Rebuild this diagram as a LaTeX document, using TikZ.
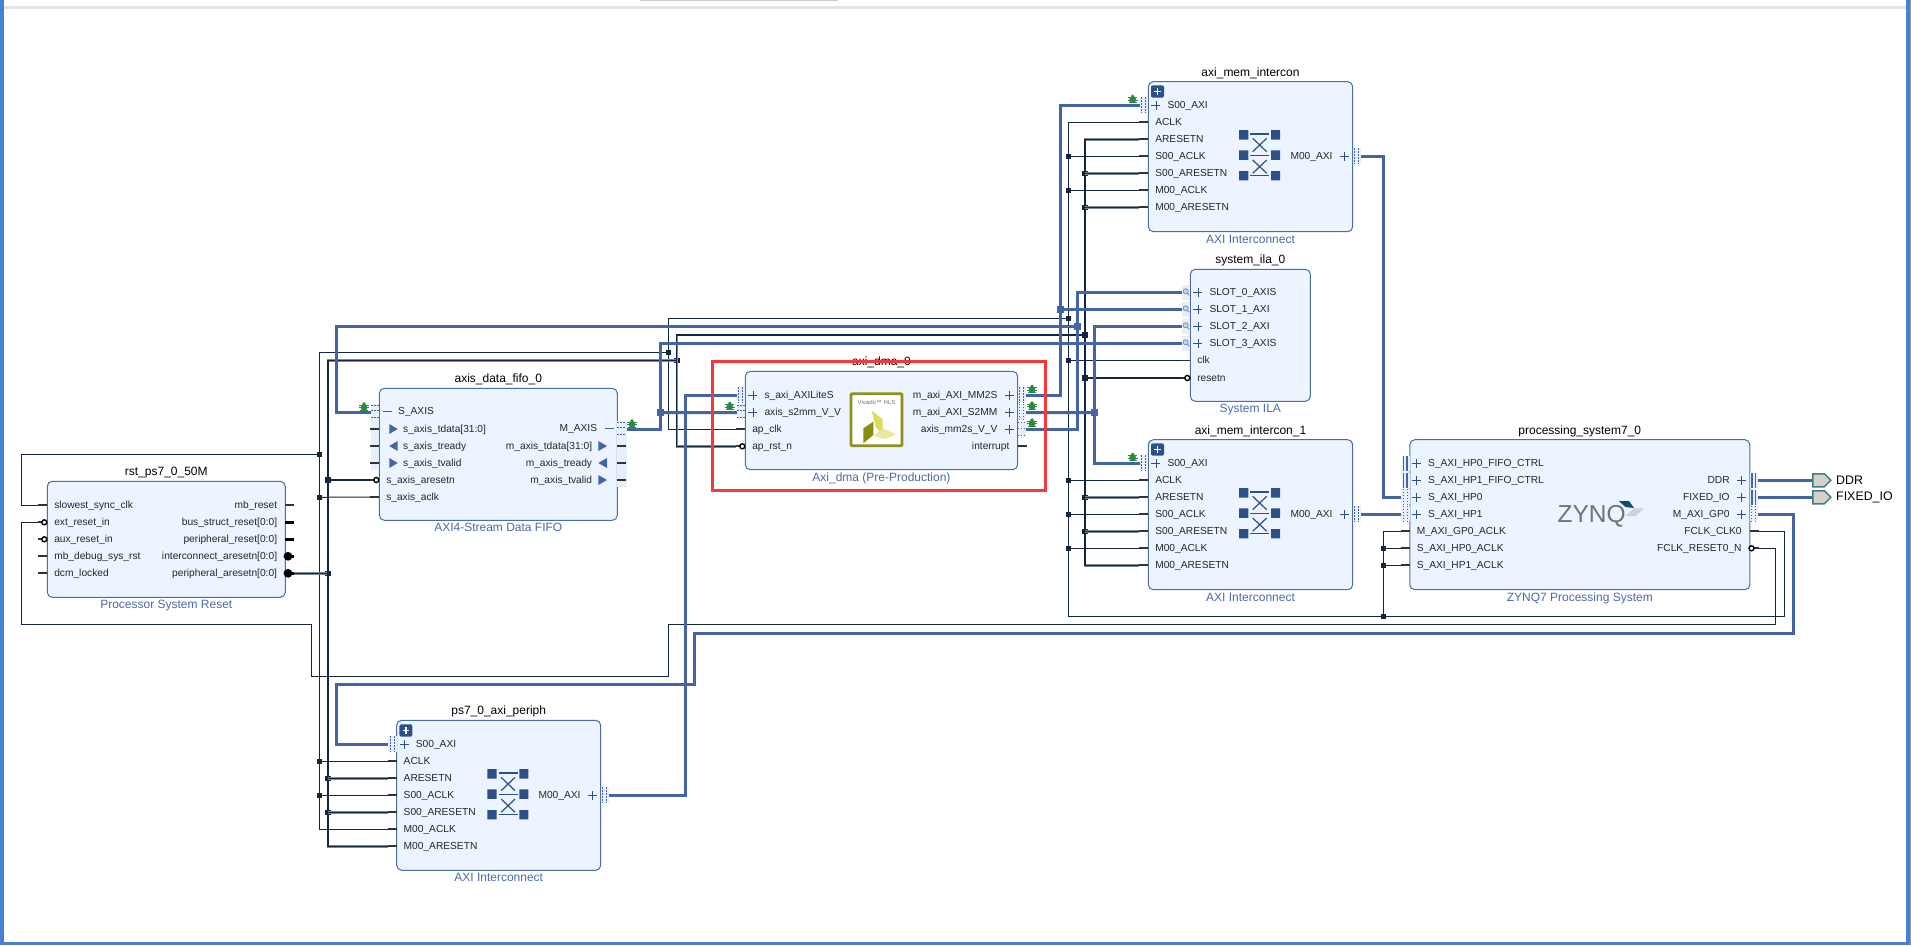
\documentclass[tikz,border=0pt]{standalone}
\usepackage{fontspec}
\setmainfont{Liberation Sans}
\usepackage{xcolor}
\usetikzlibrary{shapes.symbols}

\definecolor{frameblue}{HTML}{4A7FD6}
\definecolor{netblue}{HTML}{4464A4}
\definecolor{netdark}{HTML}{12263F}
\definecolor{netgrey}{HTML}{7C8894}
\definecolor{blockfill}{HTML}{ECF4FF}
\definecolor{blockline}{HTML}{4A6DA8}
\definecolor{subblue}{HTML}{4A6AAE}
\definecolor{iconblue}{HTML}{2E5089}
\definecolor{bandblue}{HTML}{E6EFFB}
\definecolor{buggreen}{HTML}{2A8A3E}
\definecolor{redmark}{HTML}{F83838}
\definecolor{logoolive}{HTML}{8F8F1E}
\definecolor{leaflight}{HTML}{DCDC5A}
\definecolor{leafdark}{HTML}{8C8C12}
\definecolor{leafpale}{HTML}{E8E8A0}
\definecolor{extfill}{HTML}{D8D0C8}
\definecolor{extline}{HTML}{3F7A8E}
\definecolor{zynqteal}{HTML}{0F4C6E}

\tikzset{
block/.style={
rectangle,
rounded corners=5pt,
draw=blockline,
fill=blockfill,
line width=1pt,
outer sep=0pt,
inner sep=0pt
},
blocktitle/.style={
anchor=base,
inner sep=0pt,
yshift=5.7pt,
font=\fontsize{12}{14}\selectfont
},
blocksub/.style={
anchor=base,
inner sep=0pt,
yshift=-11.6pt,
text=subblue,
font=\fontsize{12}{14}\selectfont
},
pinlabel/.style={
inner sep=0pt,
text height=8.4pt,
text depth=2.2pt,
text=black!85,
font=\fontsize{10.2}{12}\selectfont
},
stub/.style={draw=black!80,line width=1.8pt},
busstub/.style={draw=black,line width=3pt},
clknet/.style={draw=netdark,line width=1pt},
rstnet/.style={draw=netgrey,double=netdark,line width=.6pt,double distance=1.2pt},
axinet/.style={draw=netblue,line width=3pt},
jthin/.style={rectangle,fill=netdark,minimum size=4.6pt,inner sep=0pt},
jthick/.style={rectangle,fill=netdark,minimum size=5.6pt,inner sep=0pt},
jblue/.style={rectangle,fill=netblue,minimum size=7pt,inner sep=0pt},
extport/.style={
shape=signal,
signal to=east,
signal from=nowhere,
draw=extline,
fill=extfill,
line width=1.4pt,
minimum width=18pt,
minimum height=13pt,
inner sep=0pt
},
extlabel/.style={anchor=west,inner sep=0pt,font=\fontsize{12.4}{14}\selectfont}
}

% small marks beside the ports
\newcommand{\plusmark}[2]{\draw[iconblue,line width=.8pt] (#1-4.5,#2) -- (#1+4.5,#2) (#1,#2-4.5) -- (#1,#2+4.5);}
\newcommand{\bubble}[2]{\draw[black,fill=white,line width=1.4pt] (#1,#2) circle (2.5pt);}
\newcommand{\blob}[2]{\fill[black] (#1,#2) circle (4.4pt);}
\newcommand{\bugmark}[2]{
\fill[buggreen] (#1,#2+.5) circle (3.4pt) (#1,#2-3) circle (1.8pt);
\draw[buggreen,line width=.6pt] (#1-4.6,#2-1.6) -- (#1+4.6,#2-1.6) (#1-4.8,#2+.6) -- (#1+4.8,#2+.6) (#1-4.2,#2+3.4) -- (#1+4.2,#2+3.4);
}
\newcommand{\dotsV}[2]{
\fill[bandblue] (#1,#2-8.5) rectangle (#1+8.4,#2+7);
\draw[netblue,line width=1.1pt,dash pattern=on 1.6pt off 1.4pt] (#1+1.8,#2-8.5) -- (#1+1.8,#2+7) (#1+6,#2-8.5) -- (#1+6,#2+7);
}
\newcommand{\dotsH}[2]{
\fill[bandblue] (#1,#2-8.5) rectangle (#1+8.4,#2+7);
\draw[netblue,line width=1.1pt,dash pattern=on 1.6pt off 1.4pt] (#1,#2-7) -- (#1+8.4,#2-7) (#1,#2-1.5) -- (#1+8.4,#2-1.5) (#1,#2+5.5) -- (#1+8.4,#2+5.5);
}
\newcommand{\barsV}[2]{
\fill[bandblue] (#1,#2-7.5) rectangle (#1+8,#2+7.5);
\draw[netblue,line width=1.6pt] (#1+2,#2-7.5) -- (#1+2,#2+7.5) (#1+5.6,#2-7.5) -- (#1+5.6,#2+7.5);
}

% ports: name, edge x, y, text
\newcommand{\pinL}[4]{
\coordinate (#1) at (#2-9,#3);
\draw[stub] (#1) -- (#2,#3);
\node[pinlabel,anchor=west] (#1l) at (#2+6.8,#3) {#4};
}
\newcommand{\pinLneg}[4]{
\pinL{#1}{#2}{#3}{#4}
\bubble{#2-3}{#3}
}
\newcommand{\pinR}[5][stub]{
\coordinate (#2) at (#3+9,#4);
\draw[#1] (#3,#4) -- (#2);
\node[pinlabel,anchor=east] (#2l) at (#3-8,#4) {#5};
}
\newcommand{\busL}[4]{
\coordinate (#1) at (#2-8.4,#3);
\plusmark{#2+7.6}{#3}
\node[pinlabel,anchor=west] (#1l) at (#2+19,#3) {#4};
}
\newcommand{\busR}[4]{
\coordinate (#1) at (#2+8.4,#3);
\plusmark{#2-8.4}{#3}
\node[pinlabel,anchor=east] (#1l) at (#2-20,#3) {#4};
}
\newcommand{\strmL}[5]{
\coordinate (#1) at (#2-9,#3);
\draw[stub] (#1) -- (#2,#3);
\fill[netblue] #5;
\node[pinlabel,anchor=west] (#1l) at (#2+23.7,#3) {#4};
}
\newcommand{\strmR}[5]{
\coordinate (#1) at (#2+9,#3);
\draw[stub] (#2,#3) -- (#1);
\fill[netblue] #5;
\node[pinlabel,anchor=east] (#1l) at (#2-25,#3) {#4};
}
\newcommand{\probeL}[4]{
\fill[bandblue] (#2-8,#3-7.5) rectangle (#2,#3+7.5);
\busL{#1}{#2}{#3}{#4}
\draw[netblue!80,line width=.8pt] (#2-3,#3+1) -- (#2-1,#3+3);
\draw[netblue!80,fill=netblue!30,line width=.6pt] (#2-4.6,#3-1) circle (2.6pt);
}

% one AXI Interconnect: prefix, left x, right x, y of the S00_AXI row
\newcommand{\ifcports}[4]{
\dotsV{#2-8.4}{#4+.5}
\dotsV{#3}{#4+51.5}
\busL{#1s}{#2}{#4}{}
\node[pinlabel,anchor=west] (#1sl) at (#2+19,#4) {S00\_AXI};
\pinL{#1aclk}{#2}{#4+17}{ACLK}
\pinL{#1arst}{#2}{#4+34}{ARESETN}
\pinL{#1sclk}{#2}{#4+51}{S00\_ACLK}
\pinL{#1srst}{#2}{#4+68}{S00\_ARESETN}
\pinL{#1mclk}{#2}{#4+85}{M00\_ACLK}
\pinL{#1mrst}{#2}{#4+102}{M00\_ARESETN}
\busR{#1m}{#3}{#4+51}{M00\_AXI}
\begin{scope}[shift={(#2,#4-23.6)}]
\fill[iconblue,rounded corners=2pt] (2.7,3.6) rectangle (15.7,16);
\draw[white,line width=1.9pt] (9.2,6.4) -- (9.2,13.2) (5.8,9.8) -- (12.6,9.8);
\fill[iconblue] (90.7,48.3) rectangle (100,57.8) (122.7,48.3) rectangle (131.7,57.8);
\fill[iconblue] (90.7,68.6) rectangle (100,78.2) (122.7,68.6) rectangle (131.7,78.2);
\fill[iconblue] (90.7,89.3) rectangle (100,98.6) (122.7,89.3) rectangle (131.7,98.6);
\draw[iconblue,line width=1.2pt] (102,52.3) -- (121,52.3) (102,73.6) -- (121,73.6) (102,94) -- (121,94);
\draw[iconblue,line width=1.2pt] (104.4,56.6) -- (118.4,70) (118.4,56.6) -- (104.4,70);
\draw[iconblue,line width=1.2pt] (104.4,78.3) -- (118.4,91.6) (118.4,78.3) -- (104.4,91.6);
\end{scope}
}

\begin{document}
\begin{tikzpicture}[x=1pt,y=-1pt]

\useasboundingbox (0,0) rectangle (1911,945);
\fill[white] (0,0) rectangle (1911,945);

% window edge
\fill[black!10] (4,6) rectangle (1906,9);
\fill[black!20] (640,0) rectangle (838,1.2);
\fill[frameblue] (0,0) rectangle (4,945);
\fill[frameblue] (1906,0) rectangle (1910,945);
\fill[frameblue] (0,941.7) rectangle (1910,945);
\fill[black!40] (1910,0) rectangle (1911,945);

% blocks
\node[block,minimum width=238pt,minimum height=116pt] (rst) at (166.3,539.3) {};
\node[block,minimum width=238pt,minimum height=132pt] (fifo) at (498.3,454.3) {};
\node[block,minimum width=272.3pt,minimum height=98.4pt] (dma) at (881.45,420.5) {};
\node[block,minimum width=204.4pt,minimum height=150pt] (memzero) at (1250.5,156.7) {};
\node[block,minimum width=204.4pt,minimum height=150pt] (memone) at (1250.5,514.7) {};
\node[block,minimum width=120pt,minimum height=132pt] (ila) at (1250.3,335.3) {};
\node[block,minimum width=340pt,minimum height=150pt] (zynq) at (1579.8,514.7) {};
\node[block,minimum width=204pt,minimum height=150pt] (periph) at (498.7,795.3) {};

\node[blocktitle] (rsttitle) at (rst.north) {rst\_ps7\_0\_50M};
\node[blocktitle] (fifotitle) at (fifo.north) {axis\_data\_fifo\_0};
\node[blocktitle] (dmatitle) at (dma.north) {axi\_dma\_0};
\node[blocktitle] (memzerotitle) at (memzero.north) {axi\_mem\_intercon};
\node[blocktitle] (memonetitle) at (memone.north) {axi\_mem\_intercon\_1};
\node[blocktitle] (ilatitle) at (ila.north) {system\_ila\_0};
\node[blocktitle] (zynqtitle) at (zynq.north) {processing\_system7\_0};
\node[blocktitle] (periphtitle) at (periph.north) {ps7\_0\_axi\_periph};

\node[blocksub] (rstsub) at (rst.south) {Processor System Reset};
\node[blocksub] (fifosub) at (fifo.south) {AXI4-Stream Data FIFO};
\node[blocksub] (dmasub) at (dma.south) {Axi\_dma (Pre-Production)};
\node[blocksub] (memzerosub) at (memzero.south) {AXI Interconnect};
\node[blocksub] (memonesub) at (memone.south) {AXI Interconnect};
\node[blocksub] (ilasub) at (ila.south) {System ILA};
\node[blocksub] (zynqsub) at (zynq.south) {ZYNQ7 Processing System};
\node[blocksub] (periphsub) at (periph.south) {AXI Interconnect};

% reset block ports
\pinL{rsclk}{47.3}{505.3}{slowest\_sync\_clk}
\pinLneg{rsext}{47.3}{522.3}{ext\_reset\_in}
\pinLneg{rsaux}{47.3}{539.3}{aux\_reset\_in}
\pinL{rsdbg}{47.3}{556.3}{mb\_debug\_sys\_rst}
\pinL{rsdcm}{47.3}{573.3}{dcm\_locked}
\pinR{rsmb}{285.3}{505.3}{mb\_reset}
\pinR[busstub]{rsbus}{285.3}{522.3}{bus\_struct\_reset[0:0]}
\pinR[busstub]{rsper}{285.3}{539.3}{peripheral\_reset[0:0]}
\pinR[busstub]{rsicn}{285.3}{556.3}{interconnect\_aresetn[0:0]}
\pinR[busstub]{rspa}{285.3}{573.3}{peripheral\_aresetn[0:0]}
\blob{288}{556.3}
\blob{288}{573.3}

% fifo ports
\fill[bandblue] (370.9,404) rectangle (379.3,470);
\fill[bandblue] (617.3,420.7) rectangle (626.7,486.7);
\dotsH{370.9}{412.3}
\dotsH{617.3}{429.3}
\coordinate (ffs) at (370.9,412.3);
\coordinate (ffm) at (626.7,429.3);
\draw[netblue,line width=.8pt] (383,411) -- (391.5,411) (605,428) -- (614,428);
\node[pinlabel,anchor=west] (ffsl) at (398,411) {S\_AXIS};
\node[pinlabel,anchor=east] (ffml) at (597.3,428.5) {M\_AXIS};
\strmL{fftd}{379.3}{429}{s\_axis\_tdata[31:0]}{(389.3,424) -- (397.7,429) -- (389.3,434) -- cycle}
\strmL{fftr}{379.3}{446}{s\_axis\_tready}{(397.7,441) -- (389.3,446) -- (397.7,451) -- cycle}
\strmL{fftv}{379.3}{463}{s\_axis\_tvalid}{(389.3,458) -- (397.7,463) -- (389.3,468) -- cycle}
\pinLneg{ffrst}{379.3}{480}{s\_axis\_aresetn}
\pinL{ffclk}{379.3}{497}{s\_axis\_aclk}
\strmR{ffmd}{617.3}{446}{m\_axis\_tdata[31:0]}{(598.3,441) -- (607,446) -- (598.3,451) -- cycle}
\strmR{ffmr}{617.3}{463}{m\_axis\_tready}{(607,458) -- (598.3,463) -- (607,468) -- cycle}
\strmR{ffmv}{617.3}{480}{m\_axis\_tvalid}{(598.3,475) -- (607,480) -- (598.3,485) -- cycle}

% dma ports
\dotsV{736.9}{395.7}
\dotsH{736.9}{412.3}
\dotsV{1017.6}{395.7}
\dotsV{1017.6}{412.3}
\dotsH{1017.6}{429.7}
\busL{dmlite}{745.3}{395.7}{s\_axi\_AXILiteS}
\busL{dms2mm}{745.3}{412.7}{axis\_s2mm\_V\_V}
\pinL{dmclk}{745.3}{429.3}{ap\_clk}
\pinLneg{dmrst}{745.3}{446.3}{ap\_rst\_n}
\busR{dmmm}{1017.6}{395.7}{m\_axi\_AXI\_MM2S}
\busR{dmsm}{1017.6}{412.7}{m\_axi\_AXI\_S2MM}
\busR{dmaxis}{1017.6}{429.7}{axis\_mm2s\_V\_V}
\pinR{dmint}{1017.6}{446.3}{interrupt}

% vivado hls logo
\node[rectangle,rounded corners=1pt,draw=logoolive,line width=2.6pt,fill=white,minimum width=51pt,minimum height=52pt,inner sep=0pt] (hlslogo) at (876.5,419.7) {};
\node[inner sep=0pt,text=black!55,font=\fontsize{6}{7}\selectfont] (hlstext) at (876.5,402.3) {Vivado\texttrademark\ HLS};
\fill[leaflight] (871.7,410.7) -- (882.7,419.3) -- (882.7,435) -- (875.7,426.7) -- cycle;
\fill[leafdark] (873.3,421.7) -- (873.3,435) -- (863.3,443.3) -- (863.3,428.3) -- cycle;
\fill[leafpale] (883.3,428.3) -- (896,434.3) -- (885,439) -- (873.3,435.7) -- cycle;

% interconnect ports
\ifcports{ma}{1148.3}{1352.7}{105.3}
\ifcports{mb}{1148.3}{1352.7}{463.3}
\ifcports{mc}{396.7}{600.7}{744.3}

% ila ports
\probeL{ilzero}{1190.3}{292.3}{SLOT\_0\_AXIS}
\probeL{ilone}{1190.3}{309.3}{SLOT\_1\_AXI}
\probeL{iltwo}{1190.3}{326.3}{SLOT\_2\_AXI}
\probeL{ilthree}{1190.3}{343.3}{SLOT\_3\_AXIS}
\pinL{ilclk}{1190.3}{360.5}{clk}
\pinLneg{ilrst}{1190.3}{378}{resetn}

% zynq ports
\barsV{1401.5}{463}
\barsV{1401.5}{480}
\dotsV{1401.4}{497.3}
\dotsV{1401.4}{514.3}
\coordinate (pshpz) at (1401.4,497.3);
\coordinate (pshpo) at (1401.4,514.3);
\plusmark{1416}{463}
\plusmark{1416}{480}
\plusmark{1416}{497.3}
\plusmark{1416}{514.3}
\node[pinlabel,anchor=west] (psfifoz) at (1428,463) {S\_AXI\_HP0\_FIFO\_CTRL};
\node[pinlabel,anchor=west] (psfifoo) at (1428,480) {S\_AXI\_HP1\_FIFO\_CTRL};
\node[pinlabel,anchor=west] (pshpzl) at (1428,497.3) {S\_AXI\_HP0};
\node[pinlabel,anchor=west] (pshpol) at (1428,514.3) {S\_AXI\_HP1};
\pinL{psgp}{1409.8}{531.3}{M\_AXI\_GP0\_ACLK}
\pinL{pshz}{1409.8}{548.3}{S\_AXI\_HP0\_ACLK}
\pinL{psho}{1409.8}{565.3}{S\_AXI\_HP1\_ACLK}
\barsV{1749.8}{480.3}
\barsV{1749.8}{497.3}
\dotsV{1749.8}{514.3}
\busR{psddr}{1749.8}{480.3}{DDR}
\busR{psfix}{1749.8}{497.3}{FIXED\_IO}
\busR{psmgp}{1749.8}{514.3}{M\_AXI\_GP0}
\pinR{psfclk}{1749.8}{531.3}{FCLK\_CLK0}
\pinR{psfrst}{1749.8}{548.3}{FCLK\_RESET0\_N}
\bubble{1751.5}{548.3}
\node[inner sep=0pt,text=black!55,font=\fontsize{24.5}{26}\selectfont] (zynqlogo) at (1591.6,516) {ZYNQ};
\fill[zynqteal] (1618.7,501) -- (1629,501) -- (1634,508) -- (1625.5,507) -- cycle;
\fill[black!18] (1634,508.3) -- (1644,508.3) -- (1635.7,516) -- (1625.5,516) -- cycle;

% external ports
\node[extport] (ddrport) at (1818.6,480.3) {};
\node[extport] (fixedport) at (1818.6,497.3) {};
\node[extlabel] (ddrlabel) at (1836,480.3) {DDR};
\node[extlabel] (fixedlabel) at (1836,497.3) {FIXED\_IO};

% junctions
\node[jthin] (cj1) at (319.3,454.3) {};
\node[jthin] (cj2) at (319.3,497.3) {};
\node[jthin] (cj3) at (319.3,761.3) {};
\node[jthin] (cj4) at (319.3,795.3) {};
\node[jthin] (cj5) at (668.6,352.3) {};
\node[jthin] (cj6) at (1068.6,318.3) {};
\node[jthin] (cj7) at (1068.6,156.3) {};
\node[jthin] (cj8) at (1068.6,190.3) {};
\node[jthin] (cj9) at (1068.6,360.5) {};
\node[jthin] (cj10) at (1068.6,480.3) {};
\node[jthin] (cj11) at (1068.6,514.3) {};
\node[jthin] (cj12) at (1068.6,548.3) {};
\node[jthin] (cj13) at (1383.3,548.3) {};
\node[jthin] (cj14) at (1383.3,565.3) {};
\node[jthin] (cj15) at (1383.3,616.3) {};
\node[jthick] (rj1) at (328,480) {};
\node[jthick] (rj2) at (328,573.3) {};
\node[jthick] (rj3) at (328,778.3) {};
\node[jthick] (rj4) at (328,812.3) {};
\node[jthick] (rj5) at (676.7,360.3) {};
\node[jthick] (rj6) at (1085,335) {};
\node[jthick] (rj7) at (1085,173.3) {};
\node[jthick] (rj8) at (1085,207.3) {};
\node[jthick] (rj9) at (1085,378) {};
\node[jthick] (rj10) at (1085,497.3) {};
\node[jthick] (rj11) at (1085,531.3) {};
\node[jblue] (bj1) at (1060.6,309.3) {};
\node[jblue] (bj2) at (1094.3,412.5) {};
\node[jblue] (bj3) at (1077.6,326.5) {};
\node[jblue] (bj4) at (660.3,412.5) {};

% clock net
\draw[clknet] (psfclk) -- (1784.7,531.3) |- (cj15.center) -- (1068.6,616.3) |- (maaclk);
\draw[clknet] (cj15.center) -- (1383.3,531.3) -- (psgp);
\draw[clknet] (cj14.center) -- (psho);
\draw[clknet] (cj13.center) -- (pshz);
\draw[clknet] (cj7.center) -- (masclk);
\draw[clknet] (cj8.center) -- (mamclk);
\draw[clknet] (cj9.center) -- (ilclk);
\draw[clknet] (cj10.center) -- (mbaclk);
\draw[clknet] (cj11.center) -- (mbsclk);
\draw[clknet] (cj12.center) -- (mbmclk);
\draw[clknet] (cj6.center) -- (668.6,318.3) |- (dmclk);
\draw[clknet] (cj5.center) -- (319.3,352.3) |- (mcmclk);
\draw[clknet] (rsclk) -- (21,505.3) |- (cj1.center);
\draw[clknet] (cj2.center) -- (ffclk);
\draw[clknet] (cj3.center) -- (mcaclk);
\draw[clknet] (cj4.center) -- (mcsclk);

% external reset net
\draw[clknet] (psfrst) -- (1775.5,548.3) |- (668.7,624.3) |- (311.5,676.3) |- (21,624.3) |- (rsext);

% peripheral reset net
\draw[rstnet] (rspa) -- (rj2.center);
\draw[rstnet] (rj5.center) -- (328,360.3) |- (mcmrst);
\draw[rstnet] (rj1.center) -- (ffrst);
\draw[rstnet] (rj3.center) -- (mcarst);
\draw[rstnet] (rj4.center) -- (mcsrst);
\draw[rstnet] (rj6.center) -- (676.7,335) |- (dmrst);
\draw[rstnet] (maarst) -- (1085,139.3) -- (1085,565.3) -- (mbmrst);
\draw[rstnet] (rj7.center) -- (masrst);
\draw[rstnet] (rj8.center) -- (mamrst);
\draw[rstnet] (rj9.center) -- (ilrst);
\draw[rstnet] (rj10.center) -- (mbarst);
\draw[rstnet] (rj11.center) -- (mbsrst);

% axi nets
\draw[axinet] (dmmm) -- (1060.6,395.7) |- (mas);
\draw[axinet] (bj1.center) -- (ilone);
\draw[axinet] (dmsm) -- (bj2.center);
\draw[axinet] (iltwo) -| (bj2.center) |- (mbs);
\draw[axinet] (dmaxis) -- (1077.6,429.7) |- (ilzero);
\draw[axinet] (bj3.center) -- (336.7,326.5) |- (ffs);
\draw[axinet] (ffm) -- (660.3,429.3) -- (bj4.center);
\draw[axinet] (bj4.center) |- (ilthree);
\draw[axinet] (bj4.center) -- (dms2mm);
\draw[axinet] (mcm) -- (685.7,795.3) |- (dmlite);
\draw[axinet] (mam) -- (1383.3,156.3) |- (pshpz);
\draw[axinet] (mbm) -- (pshpo);
\draw[axinet] (psmgp) -- (1793,514.3) |- (694.3,633.3) |- (336.7,684.3) |- (mcs);
\draw[axinet] (psddr) -- (ddrport.west);
\draw[axinet] (psfix) -- (fixedport.west);

% debug marks
\bugmark{729.8}{406.3}
\bugmark{1032}{389.3}
\bugmark{1032}{406}
\bugmark{1032}{423}
\bugmark{1132.7}{99.3}
\bugmark{1132.7}{457.3}
\bugmark{364}{407}
\bugmark{632}{424}

% highlight
\node[rectangle,draw=redmark,line width=3pt,minimum width=333.5pt,minimum height=129.7pt,inner sep=0pt] (dmamark) at (879,425.85) {};

\end{tikzpicture}
\end{document}
